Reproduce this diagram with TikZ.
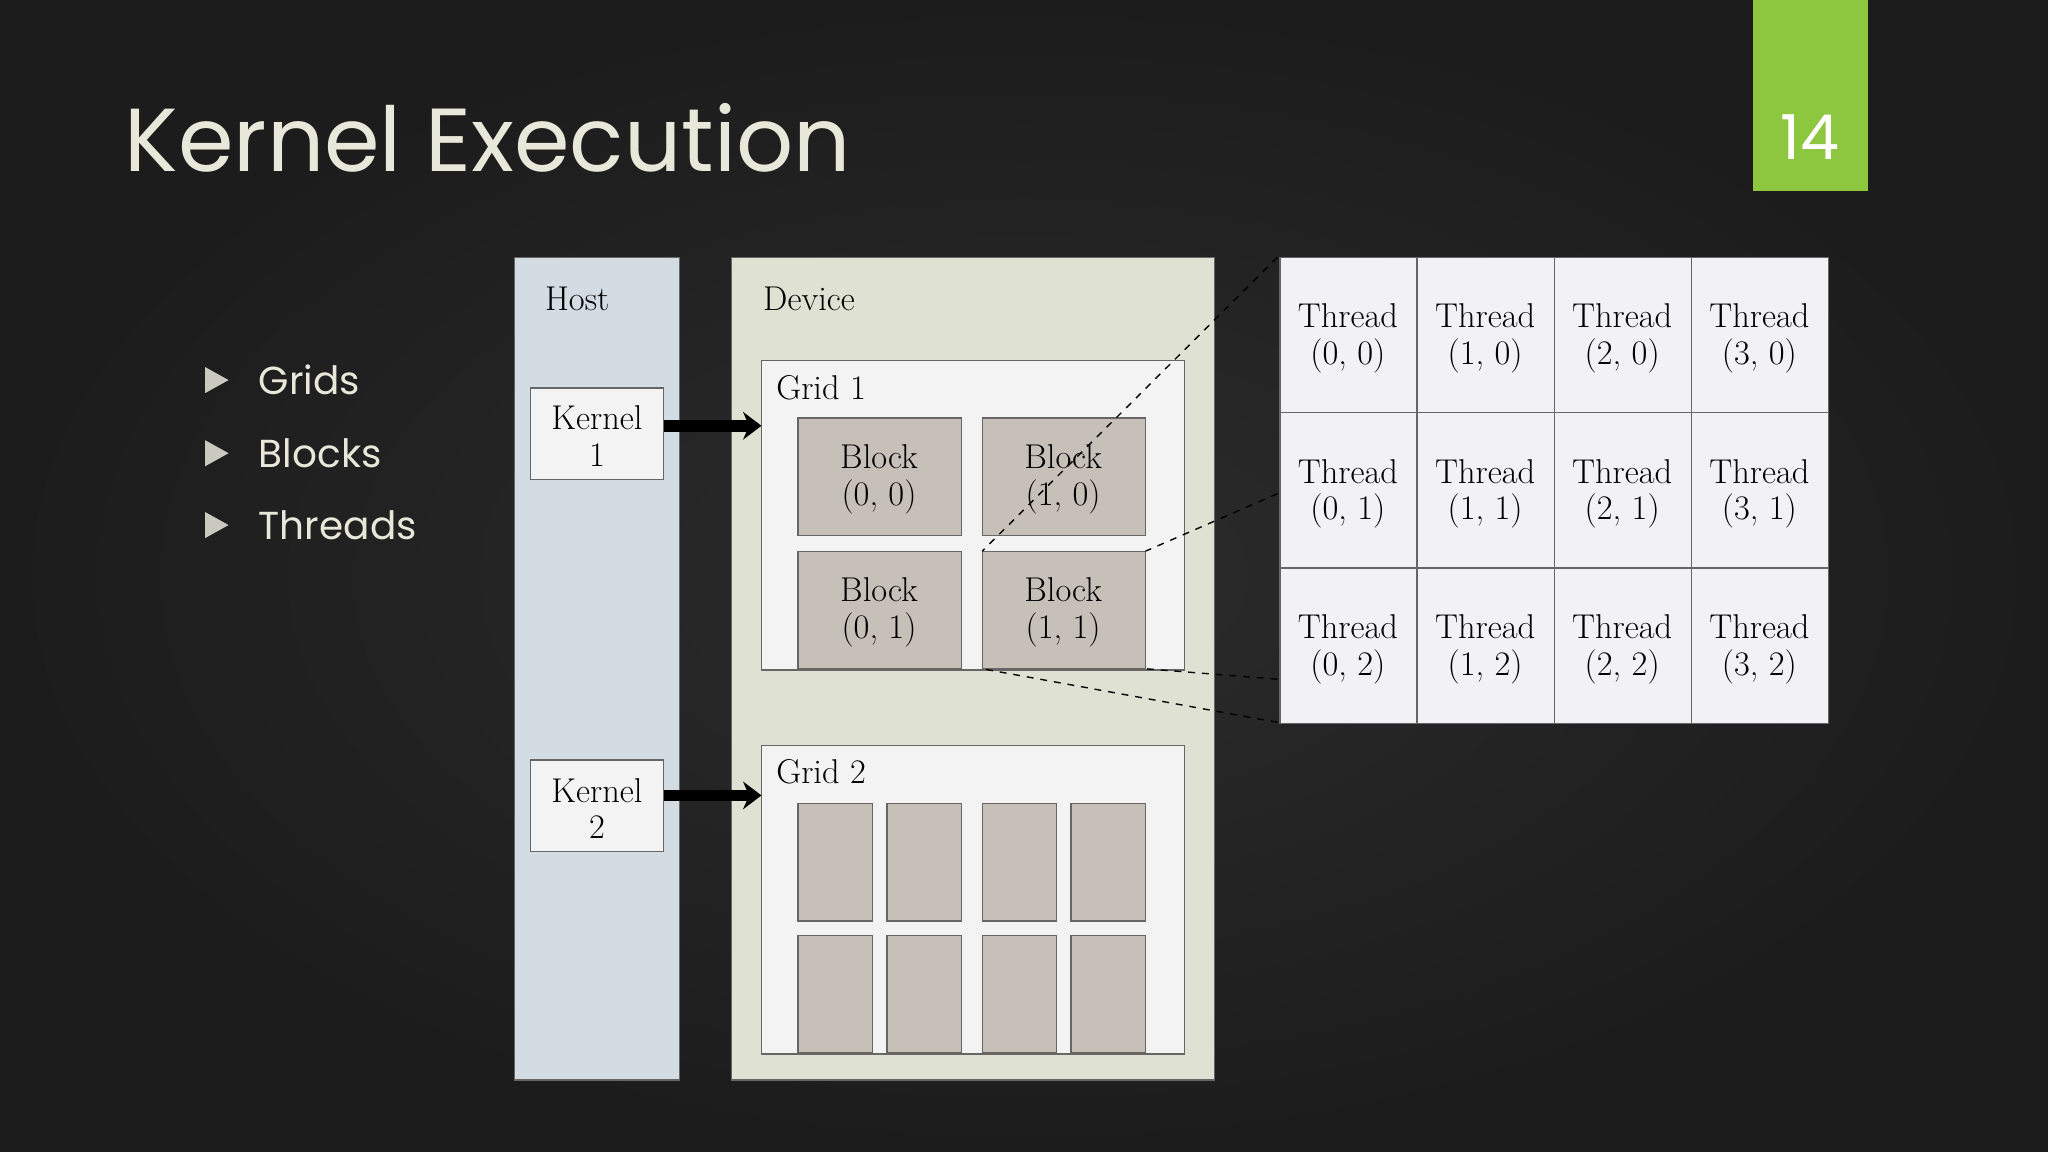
\documentclass[tikz,border=0pt]{standalone}
\usepackage{fontspec}
\newfontfamily\titlefont{Poppins}
\usetikzlibrary{arrows.meta}
\definecolor{bg}{HTML}{1C1C1C}
\definecolor{bgc}{HTML}{2C2C2C}
\definecolor{hostc}{HTML}{D3DCE3}
\definecolor{devc}{HTML}{DFE2D2}
\definecolor{gridc}{HTML}{F3F3F3}
\definecolor{blockc}{HTML}{C7C0B9}
\definecolor{threadc}{HTML}{F2F2F5}
\definecolor{greenc}{HTML}{8DC63F}
\definecolor{titlec}{HTML}{E8E8DA}
\begin{document}
\begin{tikzpicture}[x=0.02cm,y=-0.02cm,
  box/.style={draw=black!60,line width=0.6pt},
  lbl/.style={font=\fontsize{15}{16}\selectfont,align=center,inner sep=0pt},
  bul/.style={font=\titlefont\fontsize{17}{20}\selectfont,text=titlec,anchor=west},
  dl/.style={dashed,line width=0.6pt}]
\shade[inner color=bgc,outer color=bg] (0,0) rectangle (1568,882);
\useasboundingbox (0,0) rectangle (1568,882);
\fill[greenc] (1342,0) rectangle (1430,146);
\node[text=white,font=\titlefont\fontsize{27}{30}\selectfont] (num) at (1386,105) {14};
\node[anchor=base west,text=titlec,font=\titlefont\fontsize{39}{46}\selectfont,inner sep=0pt] (title) at (95,131) {Kernel Execution};
\foreach \y/\t [count=\i] in {291/Grids,347/Blocks,402/Threads}{
  \fill[titlec!70!gray] (157,\y-10) -- (175,\y) -- (157,\y+10) -- cycle;
  \node[bul] (bt\i) at (192,\y) {\t};}
% host/device
\draw[box,fill=hostc] (394,197) rectangle (520,827);
\node[lbl,anchor=base west] (host) at (417,238) {Host};
\draw[box,fill=devc] (560,197) rectangle (930,827);
\node[lbl,anchor=base west] (dev) at (584,238) {Device};
\draw[box,fill=gridc] (406,297) rectangle (508,367);
\node[lbl] (k1) at (457,334) {Kernel\\1};
\draw[box,fill=gridc] (406,582) rectangle (508,652);
\node[lbl] (k2) at (457,619) {Kernel\\2};
\draw[box,fill=gridc] (583,276) rectangle (907,513);
\node[lbl,anchor=base west] (g1) at (594,306) {Grid 1};
\draw[box,fill=gridc] (583,571) rectangle (907,807);
\node[lbl,anchor=base west] (g2) at (594,600) {Grid 2};
\coordinate (a1s) at (508,326); \coordinate (a1e) at (583,326);
\coordinate (a2s) at (508,609); \coordinate (a2e) at (583,609);
\draw[line width=5pt,-{Stealth[length=8pt,width=12pt]}] (a1s) -- (a1e);
\draw[line width=5pt,-{Stealth[length=8pt,width=12pt]}] (a2s) -- (a2e);
\foreach \x/\y/\a/\b in {611/320/0/0,752/320/1/0,611/422/0/1,752/422/1/1}{
  \draw[box,fill=blockc] (\x,\y) rectangle ++(125,90);
  \node[lbl] (bl\a\b) at (\x+62,\y+47) {Block\\(\a, \b)};}
\foreach \x in {611,679,752,820}{
  \foreach \y in {615,716}{
    \draw[box,fill=blockc] (\x,\y) rectangle ++(57,90);}}
% threads
\foreach \c [count=\i from 0] in {980,1085,1190,1295}{
  \foreach \r [count=\j from 0] in {197,316,435}{
    \draw[box,fill=threadc] (\c,\r) rectangle ++(105,119);
    \node[lbl] (t\i\j) at (\c+52,\r+62) {Thread\\(\i, \j)};}}
\coordinate (tl) at (978,197); \coordinate (tr) at (978,378);
\coordinate (br) at (978,520); \coordinate (bb) at (978,553);
\draw[dl] (tl) -- (752,422);
\draw[dl] (tr) -- (877,422);
\draw[dl] (br) -- (877,512);
\draw[dl] (bb) -- (752,512);
\end{tikzpicture}
\end{document}
